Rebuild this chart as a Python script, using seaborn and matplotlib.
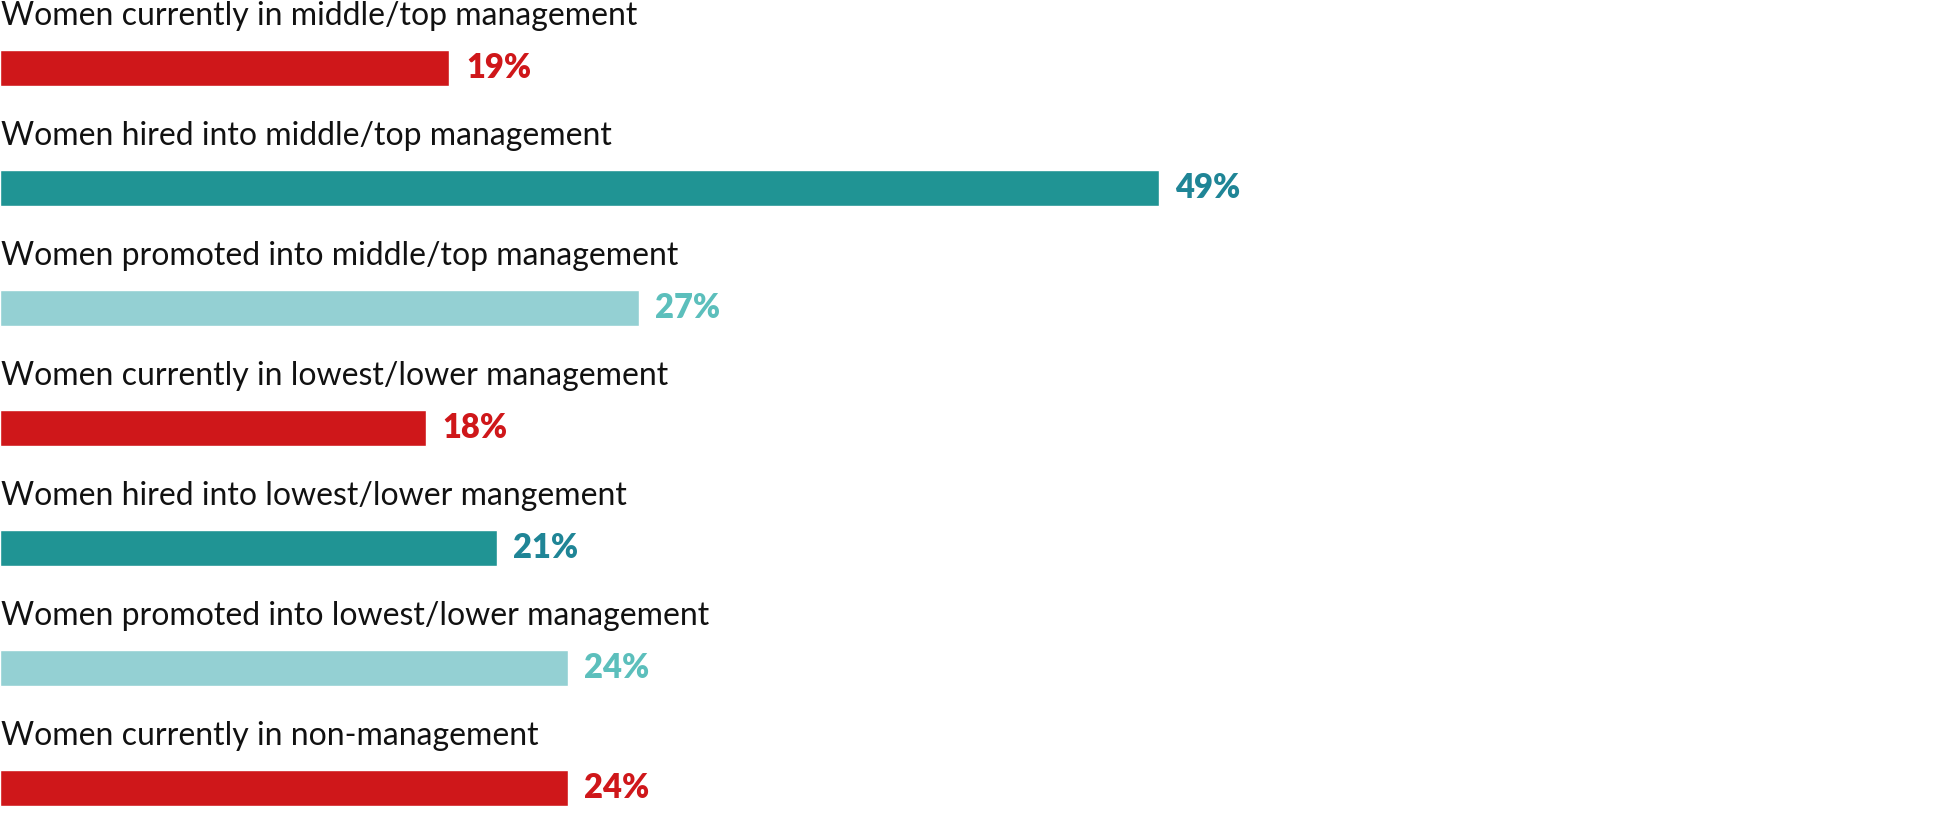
import matplotlib
matplotlib.use('AGG')
import matplotlib.pyplot as plt
import seaborn as sns
import pandas as pd

categories = [
    'Women currently in middle/top management',
    'Women hired into middle/top management',
    'Women promoted into middle/top management',
    'Women currently in lowest/lower management',
    'Women hired into lowest/lower mangement',
    'Women promoted into lowest/lower management',
    'Women currently in non-management',
]
values = [19, 49, 27, 18, 21, 24, 24]
groups = ['current', 'hired', 'promoted', 'current', 'hired', 'promoted', 'current']

bar_colors = {'current': '#CF171A', 'hired': '#209494', 'promoted': '#94D0D3'}
text_colors = {'current': '#CF171A', 'hired': '#1F8596', 'promoted': '#5CBFBC'}

df = pd.DataFrame({'category': categories, 'value': values, 'group': groups})

sns.set_theme(style='white')
plt.rcParams['font.family'] = ['Lato', 'DejaVu Sans']

fig = plt.figure(figsize=(19.49, 8.15), dpi=100)
ax = fig.add_axes([0, 0, 1, 1])

sns.barplot(data=df, x='value', y='category', hue='group', palette=bar_colors,
            order=categories, dodge=False, width=0.3, legend=False, ax=ax,
            saturation=1)

for i, (cat, val, grp) in enumerate(zip(categories, values, groups)):
    ax.text(0.05, i - 0.36, cat, fontsize=23, color='#111111', va='baseline', ha='left')
    ax.text(val + 0.7, i, f'{val}%', fontsize=23.5, fontweight='heavy',
            color=text_colors[grp], va='center', ha='left')

ax.set_xlim(0, 1949 / 23.65)
ax.set_ylim(6.225, -0.567)
ax.set_axis_off()

fig.savefig('out.png', dpi=100)
plt.close(fig)
